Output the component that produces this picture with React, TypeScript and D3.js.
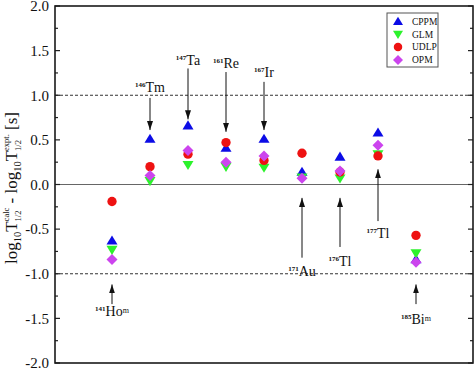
import React from "react";
import * as d3 from "d3";

const WIDTH = 474;
const HEIGHT = 369;
const FRAME = { left: 55, right: 473, top: 6, bottom: 363 };
const FONT = "'Liberation Serif', 'DejaVu Serif', serif";

// nuclei along the x axis
const MASS = ["141", "146", "147", "161", "167", "171", "176", "177", "185"];
const ELEMENT = ["Ho", "Tm", "Ta", "Re", "Ir", "Au", "Tl", "Tl", "Bi"];
const ISOMER = ["m", "", "", "", "", "", "", "", "m"];

// log10 T_calc - log10 T_expt for each model
const CPPM = [-0.63, 0.51, 0.66, 0.41, 0.51, 0.14, 0.31, 0.58, -0.84];
const GLM = [-0.73, 0.04, 0.22, 0.2, 0.19, 0.08, 0.07, 0.34, -0.77];
const UDLP = [-0.19, 0.2, 0.34, 0.47, 0.27, 0.35, 0.14, 0.32, -0.57];
const OPM = [-0.84, 0.1, 0.38, 0.25, 0.32, 0.07, 0.15, 0.44, -0.87];

// annotation arrows, in data units
const LABEL_Y = [-1.47, 1.04, 1.34, 1.31, 1.2, -1.03, -0.91, -0.6, -1.56];
const ARROW_FROM = [-1.34, 0.97, 1.3, 1.26, 1.15, -0.82, -0.7, -0.41, -1.34];
const ARROW_TO = [-1.12, 0.61, 0.73, 0.59, 0.61, -0.15, -0.15, 0.17, -1.12];

const MAJOR_TICKS = [-2, -1.5, -1, -0.5, 0, 0.5, 1, 1.5, 2];
const MINOR_TICKS = [-1.75, -1.25, -0.75, -0.25, 0.25, 0.75, 1.25, 1.75];
const DASHED = [-1, 1];

type Shape = "up" | "down" | "circle" | "diamond";

const SERIES: { name: string; values: number[]; color: string; shape: Shape }[] = [
  { name: "CPPM", values: CPPM, color: "#0c0ce6", shape: "up" },
  { name: "GLM", values: GLM, color: "#2cf22c", shape: "down" },
  { name: "UDLP", values: UDLP, color: "#ee1212", shape: "circle" },
  { name: "OPM", values: OPM, color: "#cc44ee", shape: "diamond" },
];

function markerPath(shape: Shape, s: number) {
  if (shape === "up") return `M0,${-s * 0.95}L${s},${s * 0.7}L${-s},${s * 0.7}Z`;
  if (shape === "down") return `M0,${s * 0.95}L${s},${-s * 0.7}L${-s},${-s * 0.7}Z`;
  if (shape === "diamond") return `M0,${-s}L${s},0L0,${s}L${-s},0Z`;
  return d3.arc()({ innerRadius: 0, outerRadius: s * 0.85, startAngle: 0, endAngle: Math.PI * 2 }) as string;
}

export default function App() {
  const x = d3.scaleLinear().domain([-0.5, 10.5]).range([FRAME.left, FRAME.right]);
  const y = d3.scaleLinear().domain([-2, 2]).range([FRAME.bottom, FRAME.top]);
  const idx = MASS.map((_, i) => i + 1);

  return (
    <svg
      width={WIDTH}
      height={HEIGHT}
      style={{ position: "absolute", left: 0, top: 0, background: "#fff" }}
      fontFamily={FONT}
    >
      <defs>
        <marker
          id="head"
          markerUnits="userSpaceOnUse"
          markerWidth={10}
          markerHeight={8}
          refX={9}
          refY={3}
          orient="auto"
        >
          <path d="M0,0L9,3L0,6Z" fill="#111" />
        </marker>
      </defs>

      {/* reference lines */}
      {DASHED.map((v) => (
        <line
          key={v}
          x1={FRAME.left}
          x2={FRAME.right}
          y1={y(v)}
          y2={y(v)}
          stroke="#333"
          strokeWidth={1}
          strokeDasharray="3,2"
        />
      ))}
      <line x1={FRAME.left} x2={FRAME.right} y1={y(0)} y2={y(0)} stroke="#666" strokeWidth={1.2} />

      {/* arrows + nuclide labels */}
      {idx.map((d, i) => (
        <g key={i}>
          <line
            x1={x(d)}
            x2={x(d)}
            y1={y(ARROW_FROM[i])}
            y2={y(ARROW_TO[i])}
            stroke="#111"
            strokeWidth={1}
            markerEnd="url(#head)"
          />
          <text x={x(d)} y={y(LABEL_Y[i])} textAnchor="middle" fill="#111">
            <tspan fontSize={7} fontWeight="bold" dy={-5}>
              {MASS[i]}
            </tspan>
            <tspan fontSize={14} dy={5}>
              {ELEMENT[i]}
            </tspan>
            {ISOMER[i] && (
              <tspan fontSize={8} dy={-3}>
                {ISOMER[i]}
              </tspan>
            )}
          </text>
        </g>
      ))}

      {/* data points */}
      {SERIES.map((s) => (
        <g key={s.name}>
          {s.values.map((v, i) => (
            <path
              key={i}
              transform={`translate(${x(idx[i])},${y(v)})`}
              d={markerPath(s.shape, 5.5)}
              fill={s.color}
            />
          ))}
        </g>
      ))}

      {/* ticks, inward on both sides */}
      {MAJOR_TICKS.map((t) => (
        <g key={t}>
          <line x1={FRAME.left} x2={FRAME.left + 5} y1={y(t)} y2={y(t)} stroke="#222" strokeWidth={1.2} />
          <line x1={FRAME.right} x2={FRAME.right - 5} y1={y(t)} y2={y(t)} stroke="#222" strokeWidth={1.2} />
          <text
            x={FRAME.left - 6}
            y={y(t)}
            dy="0.35em"
            textAnchor="end"
            fontSize={15}
            fill="#111"
          >
            {d3.format(".1f")(t).replace("−", "-")}
          </text>
        </g>
      ))}
      {MINOR_TICKS.map((t) => (
        <g key={t}>
          <line x1={FRAME.left} x2={FRAME.left + 3} y1={y(t)} y2={y(t)} stroke="#222" strokeWidth={1.2} />
          <line x1={FRAME.right} x2={FRAME.right - 3} y1={y(t)} y2={y(t)} stroke="#222" strokeWidth={1.2} />
        </g>
      ))}

      {/* frame */}
      <rect
        x={FRAME.left}
        y={FRAME.top}
        width={FRAME.right - FRAME.left}
        height={FRAME.bottom - FRAME.top}
        fill="none"
        stroke="#1a1a1a"
        strokeWidth={1.6}
      />

      {/* legend */}
      <g transform="translate(387,13)">
        <rect width={51} height={54} fill="#fff" stroke="#555" strokeWidth={1} />
        {SERIES.map((s, i) => (
          <g key={s.name} transform={`translate(0,${8.5 + i * 12.8})`}>
            <path transform="translate(11,0)" d={markerPath(s.shape, 5)} fill={s.color} />
            <text x={25} dy="0.35em" fontSize={9.5} fill="#111">
              {s.name}
            </text>
          </g>
        ))}
      </g>

      {/* y axis title */}
      <text transform="translate(17,188) rotate(-90)" textAnchor="middle" fontSize={17} fill="#111">
        <tspan>log</tspan>
        <tspan fontSize={10.5} dy={4}>10</tspan>
        <tspan dy={-4}>T</tspan>
        <tspan fontSize={8.5} dy={-8}>calc</tspan>
        <tspan fontSize={8.5} dx={-13.7} dy={12}>1/2</tspan>
        <tspan dx={2.8} dy={-4}>{" - log"}</tspan>
        <tspan fontSize={10.5} dy={4}>10</tspan>
        <tspan dy={-4}>T</tspan>
        <tspan fontSize={8.5} dy={-8}>expt.</tspan>
        <tspan fontSize={8.5} dx={-16.8} dy={12}>1/2</tspan>
        <tspan dx={5.9} dy={-4}>{" [s]"}</tspan>
      </text>
    </svg>
  );
}
